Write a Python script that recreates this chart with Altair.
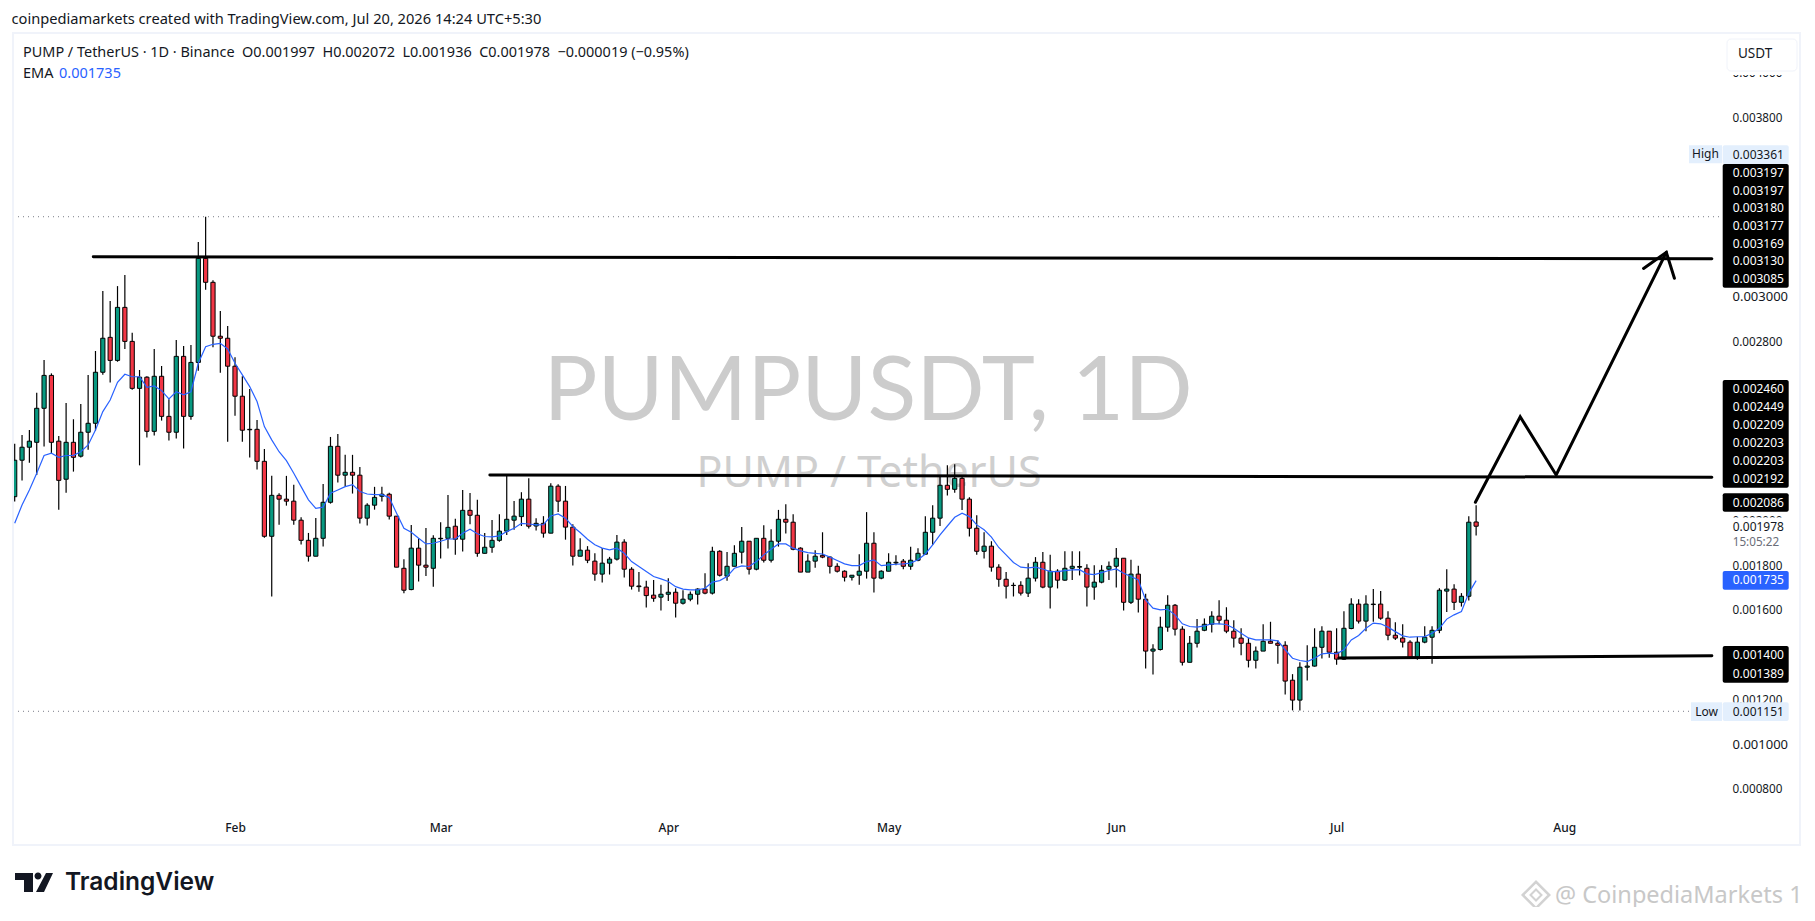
import altair as alt
import pandas as pd

# Prices in millionths of a USDT
HIGH = [2346,2386,2408,2574,2721,2661,2381,2529,2456,2524,2654,2761,3029,2984,3051,3101,2842,2676,2648,2770,
2694,2545,2810,2783,2788,3248,3361,3077,2940,2873,2733,2648,2591,2453,2323,2203,2125,2203,2163,2018,
1948,2015,2167,2377,2390,2297,2297,2243,2081,2154,2154,2128,2023,1830,1984,1924,1970,1938,1996,2118,
2011,2140,2127,2096,1948,2006,2031,2203,2091,2130,2192,2014,2023,2170,2166,2158,1987,1924,1889,1857,
1881,1841,1939,1920,1795,1774,1734,1738,1716,1746,1701,1692,1686,1701,1768,1886,1871,1863,1893,1975,
1911,1924,1982,1965,2051,2076,2032,1884,1853,1871,1951,1844,1813,1781,1759,1853,2041,1951,1781,1857,
1848,1831,1886,1880,2023,2072,2200,2250,2255,2200,2108,2027,1951,1911,1808,1773,1726,1732,1813,1840,
1863,1850,1786,1866,1866,1866,1808,1804,1804,1820,1881,1835,1828,1801,1676,1451,1573,1670,1630,1531,
1488,1563,1566,1598,1647,1616,1558,1522,1478,1440,1540,1551,1469,1464,1317,1370,1446,1522,1531,1509,
1522,1598,1656,1652,1670,1698,1688,1598,1549,1540,1469,1484,1531,1531,1701,1786,1719,1679,2023,2072]
BODY_TOP = [2273,2331,2358,2505,2652,2652,2358,2353,2353,2398,2438,2666,2818,2822,2956,2956,2804,2644,2644,2648,
2648,2469,2737,2737,2710,3175,3175,3068,2827,2818,2693,2559,2411,2411,2268,2116,2116,2099,2090,2005,
1915,1924,2085,2335,2335,2219,2219,2206,2072,2107,2121,2121,2023,1790,1880,1880,1804,1924,1924,1973,
1978,2049,2049,2027,1884,1915,1956,2009,2023,2099,2099,1991,1991,2157,2157,2090,1974,1871,1871,1822,
1813,1831,1907,1907,1786,1711,1706,1670,1674,1683,1683,1652,1674,1697,1697,1866,1866,1799,1857,1911,
1911,1924,1924,1911,2009,2009,1996,1880,1822,1844,1848,1840,1799,1777,1759,1777,1902,1902,1777,1817,
1817,1822,1826,1857,1951,2014,2161,2161,2192,2192,2099,1969,1889,1889,1795,1741,1714,1714,1746,1817,
1817,1777,1777,1790,1799,1798,1790,1728,1781,1799,1835,1835,1764,1764,1652,1429,1527,1625,1625,1518,
1455,1509,1540,1576,1576,1558,1509,1478,1455,1420,1464,1464,1455,1446,1290,1348,1353,1437,1509,1509,
1415,1522,1630,1630,1630,1630,1630,1567,1491,1478,1460,1460,1482,1513,1692,1697,1697,1665,1996,1997]
BODY_BOT = [2110,2273,2331,2353,2505,2353,2183,2188,2286,2291,2398,2438,2666,2719,2719,2804,2594,2594,2402,2402,
2469,2398,2398,2469,2469,2710,3068,2827,2818,2693,2559,2407,2409,2268,1933,1933,2099,2090,2005,1915,
1844,1844,1924,2085,2206,2206,2206,2014,2014,2072,2112,2023,1795,1692,1695,1804,1795,1790,1922,1924,
1920,1920,2027,1857,1857,1884,1915,1956,2005,2021,1978,1979,1947,1947,2090,1974,1844,1844,1826,1764,
1764,1813,1831,1786,1710,1708,1668,1656,1661,1674,1634,1634,1652,1674,1679,1679,1759,1755,1799,1862,
1786,1786,1826,1826,1911,1996,1875,1773,1773,1822,1840,1799,1777,1750,1750,1759,1777,1746,1746,1777,
1814,1799,1799,1826,1853,1951,2014,2143,2143,2099,1969,1866,1866,1795,1741,1710,1713,1679,1679,1746,
1706,1706,1737,1737,1790,1795,1706,1706,1728,1786,1799,1638,1638,1652,1420,1420,1427,1527,1518,1370,
1370,1455,1513,1540,1558,1509,1478,1455,1379,1379,1420,1455,1446,1286,1201,1201,1348,1353,1437,1415,
1384,1384,1521,1554,1554,1628,1567,1491,1478,1460,1388,1388,1460,1482,1513,1688,1638,1638,1665,1978]
LOW = [2088,2182,2262,2207,2334,2304,2052,2128,2222,2285,2320,2405,2655,2620,2713,2770,2588,2250,2374,2383,
2450,2361,2370,2325,2454,2673,3035,2778,2664,2356,2472,2356,2285,2231,1927,1664,1985,2070,1985,1896,
1820,1844,1887,2079,2173,2155,2124,1990,1981,2052,2088,2008,1795,1679,1692,1731,1756,1708,1834,1878,
1851,1865,1987,1842,1856,1860,1909,1939,1962,1979,1968,1959,1927,1947,2042,1918,1802,1844,1813,1734,
1726,1762,1825,1749,1695,1685,1615,1641,1601,1644,1570,1628,1643,1628,1674,1673,1753,1734,1799,1811,
1762,1781,1816,1816,1887,1945,1871,1773,1773,1793,1835,1767,1771,1731,1735,1717,1744,1682,1741,1777,
1804,1786,1783,1822,1851,1895,1979,2115,2128,2051,1932,1851,1834,1775,1708,1655,1664,1668,1662,1731,
1701,1610,1700,1734,1738,1758,1619,1649,1723,1738,1704,1601,1630,1592,1342,1315,1423,1507,1490,1356,
1370,1436,1509,1503,1540,1500,1436,1402,1347,1342,1420,1455,1363,1226,1155,1155,1289,1351,1387,1390,
1359,1381,1518,1543,1509,1551,1560,1469,1470,1436,1388,1381,1455,1363,1500,1595,1604,1619,1646,1936]
UP = [1,1,1,1,1,0,0,1,0,1,1,1,1,0,1,0,0,1,0,1,
0,0,1,0,1,1,0,0,0,0,0,0,1,0,0,1,0,0,0,0,
0,1,1,1,0,1,0,0,1,1,1,0,0,0,1,0,0,1,1,1,
0,1,0,0,1,1,1,1,1,1,0,1,0,1,0,0,0,1,0,0,
1,1,1,0,0,0,0,0,1,1,0,1,1,1,0,1,0,1,1,1,
0,1,0,1,1,0,0,0,1,1,0,0,0,0,1,1,1,0,1,1,
1,0,1,1,1,1,1,0,1,0,0,0,1,0,0,0,1,0,1,1,
0,1,0,1,1,1,0,1,1,1,1,0,1,0,0,1,1,1,0,0,
1,1,1,1,0,0,0,0,0,1,1,0,0,0,0,1,1,1,1,0,
0,1,1,0,1,1,0,0,0,0,0,1,1,1,1,1,0,1,1,0]
EMA = [1991,2073,2140,2215,2294,2304,2286,2294,2295,2311,2341,2408,2490,2542,2621,2657,2646,2646,2599,2605,
2584,2547,2579,2565,2579,2706,2780,2791,2795,2770,2706,2654,2602,2535,2423,2364,2311,2271,2215,2155,
2096,2058,2063,2125,2140,2155,2164,2133,2122,2119,2119,2106,2036,1969,1951,1924,1899,1902,1911,1921,
1921,1947,1965,1944,1932,1930,1935,1954,1969,1991,1988,1984,1985,2024,2033,2014,1977,1950,1920,1895,
1880,1872,1880,1857,1820,1798,1776,1753,1743,1731,1708,1697,1694,1694,1701,1728,1735,1753,1790,1801,
1798,1820,1850,1875,1899,1899,1880,1868,1860,1857,1854,1840,1825,1810,1802,1802,1820,1828,1802,1805,
1808,1810,1813,1828,1854,1895,1939,1979,2018,2036,2021,1984,1962,1929,1883,1850,1816,1795,1792,1795,
1787,1775,1775,1780,1783,1784,1765,1762,1771,1780,1787,1768,1753,1738,1649,1612,1604,1607,1582,1542,
1530,1527,1533,1542,1542,1539,1522,1500,1479,1470,1470,1470,1466,1426,1388,1378,1373,1388,1408,1411,
1408,1426,1470,1490,1522,1545,1542,1527,1507,1488,1482,1484,1485,1500,1522,1563,1582,1597,1679,1735]

# Bar number (0 = 2 Jan 2026, one bar per day) and price of each hand-drawn line
TREND_BARS = [[10.7,231.1],[64.7,231.1],[180.3,231.1]]
TREND_PRICES = [[3182,3173],[2207,2197],[1389,1399]]
PATH_BARS = [198.9,205.0,209.9,224.9]
PATH_PRICES = [2085,2467,2207,3202]
HEAD_BARS = [221.8,224.9,226.0]
HEAD_PRICES = [3130,3202,3086]
HIGH_LOW = [3361,1151]

MONTH_BARS = [30,58,89,119,150,180,211]
MONTH_NAMES = ["Feb","Mar","Apr","May","Jun","Jul","Aug"]
AXIS_TICKS = [800,1000,1200,1600,1800,2000,2800,3000,3800,4000]
STACK_TOP = ["0.003197","0.003197","0.003180","0.003177","0.003169","0.003130","0.003085"]
STACK_MID = ["0.002460","0.002449","0.002209","0.002203","0.002203","0.002192"]
STACK_NOW = ["0.002086"]
STACK_LOW = ["0.001400","0.001389"]

FONT = "Noto Sans"
GREEN, RED, BLUE = "#089981", "#f23645", "#2962ff"
INK = "#131722"

WIDTH, HEIGHT = 1709, 779
xscale = alt.Scale(domain=[-0.231, 232.48], nice=False, zero=False, padding=0)
yscale = alt.Scale(domain=[0.000701, 0.004182], nice=False, zero=False)
micro = lambda seq: [v / 1e6 for v in seq]

df = pd.DataFrame({
    "bar": range(len(HIGH)), "high": micro(HIGH), "low": micro(LOW),
    "top": micro(BODY_TOP), "bot": micro(BODY_BOT), "ema": micro(EMA),
    "dir": ["up" if u else "down" for u in UP],
})

month_expr = "{" + ",".join(f"'{b}':'{n}'" for b, n in zip(MONTH_BARS, MONTH_NAMES)) + "}[datum.value]"
XAXIS = alt.Axis(values=MONTH_BARS, labelExpr=month_expr, domain=False, ticks=False, grid=False, title=None,
                 labelFont=FONT, labelFontSize=12, labelColor=INK, labelPadding=10, labelFontWeight=500)
YAXIS = alt.Axis(orient="right", values=micro(AXIS_TICKS), labelExpr="format(datum.value,'.6f')", title=None,
                 domain=False, ticks=False, grid=False, labelFont=FONT, labelColor=INK, labelPadding=10, labelOffset=-1,
                 labelFontSize={"condition": {"test": "abs(datum.value-0.003)<1e-7||abs(datum.value-0.001)<1e-7",
                                              "value": 13}, "value": 11.7})
X = lambda f="bar": alt.X(f"{f}:Q", scale=xscale, axis=XAXIS)
Y = lambda f: alt.Y(f"{f}:Q", scale=yscale, axis=YAXIS)
blank = alt.Data(values=[{"a": 0}])

def px(x): return alt.value(x - 13)
def py(y): return alt.value(y - 33)

def label(text, x, y, size=11.7, color=INK, align="left", font=FONT, **kw):
    return alt.Chart(blank).mark_text(font=font, fontSize=size, align=align, baseline="middle",
                                      color=color, **kw).encode(x=px(x), y=py(y), text=alt.value(text))

def box(x0, x1, y0, y1, fill, **kw):
    return alt.Chart(blank).mark_rect(fill=fill, **kw).encode(x=px(x0), x2=px(x1), y=py(y0), y2=py(y1))

layers = [
    label("PUMPUSDT, 1D", 868, 393, size=90, color="#cccccc", align="center", font="Lato"),
    label("PUMP / TetherUS", 869, 474, size=43, color="#cfcfcf", align="center"),
]

# High / low dotted lines
hl = pd.DataFrame({"bar": [-0.231, 232.48, -0.231, 228.2], "p": micro([HIGH_LOW[0]] * 2 + [HIGH_LOW[1]] * 2),
                   "g": ["h", "h", "l", "l"]})
layers.append(alt.Chart(hl).mark_line(color="#787b86", strokeWidth=1, strokeDash=[1, 4]).encode(
    x=X(), y=Y("p"), detail="g:N"))

# Candles
layers.append(alt.Chart(df).mark_rule(color="#000000", strokeWidth=1.2).encode(x=X(), y=Y("high"), y2="low:Q"))
layers.append(alt.Chart(df).mark_bar(size=4.2, stroke="#000000", strokeWidth=1).encode(
    x=X(), y=Y("top"), y2="bot:Q",
    fill=alt.Fill("dir:N", scale=alt.Scale(domain=["up", "down"], range=[GREEN, RED]), legend=None)))
layers.append(alt.Chart(df).mark_line(color=BLUE, strokeWidth=1.2).encode(x=X(), y=Y("ema")))

# Hand-drawn black lines
rows = []
for i, (bs, ps) in enumerate(zip(TREND_BARS + [PATH_BARS, HEAD_BARS], TREND_PRICES + [PATH_PRICES, HEAD_PRICES])):
    for k, (b, p) in enumerate(zip(bs, ps)):
        rows.append({"bar": b, "p": p / 1e6, "g": i, "k": k})
layers.append(alt.Chart(pd.DataFrame(rows)).mark_line(color="#000000", strokeWidth=3, strokeCap="round").encode(
    x=X(), y=Y("p"), detail="g:N", order="k:O"))

# Frame and currency button
layers.append(box(1722.7, 1798, 34, 75, "#ffffff"))
layers.append(box(13, 1800, 33, 845, "transparent", stroke="#f0f3fa", strokeWidth=2))
layers.append(box(1727, 1797, 39, 71, "#ffffff", stroke="#f0f3fa", strokeWidth=1, cornerRadius=4))
layers.append(label("USDT", 1738, 54, size=13.5))

# Price badges
LX = 1732.7
layers.append(box(1722.7, 1789, 517.5, 550, "#ffffff"))
layers.append(label("0.001978", LX, 526.7, size=12))
layers.append(label("15:05:22", LX, 541.7, size=11.7, color="#6a6d78"))
layers.append(box(1722.7, 1788.7, 145.3, 164, "#e3effd", cornerRadius=2))
layers.append(label("0.003361", LX, 154.5, size=12))
layers.append(box(1689, 1722, 145.3, 163.3, "#e3effd"))
layers.append(label("High", 1705.5, 153.5, size=12, align="center"))
layers.append(box(1722.7, 1788.7, 702.3, 721, "#e3effd", cornerRadius=2))
layers.append(label("0.001151", LX, 711.5, size=12))
layers.append(box(1691, 1722, 702.3, 721, "#e3effd"))
layers.append(label("Low", 1706.5, 711.5, size=12, align="center"))
layers.append(box(1722.7, 1788.7, 571, 589.7, BLUE, cornerRadius=2))
layers.append(label("0.001735", LX, 580.3, size=12, color="#ffffff"))

for texts, y0, step in ((STACK_TOP, 164, 17.67), (STACK_MID, 380, 17.95), (STACK_NOW, 493.3, 18.4), (STACK_LOW, 646, 18.35)):
    layers.append(box(1722.7, 1788.7, y0, y0 + step * len(texts), "#000000", cornerRadius=2))
    for i, t in enumerate(texts):
        layers.append(label(t, LX, y0 + step * (i + 0.5), size=12, color="#ffffff"))

# Header text
NB = "\u00a0\u00a0"
layers.append(label("coinpediamarkets created with TradingView.com, Jul 20, 2026 14:24 UTC+5:30", 11.5, 20, size=14.65))
layers.append(label(f"PUMP / TetherUS \u00b7 1D \u00b7 Binance{NB}O0.001997{NB}H0.002072{NB}L0.001936{NB}C0.001978{NB}\u22120.000019 (\u22120.95%)", 23, 53, size=14.45))
layers.append(label("EMA", 23, 74, size=14.5))
layers.append(label("0.001735", 59, 74, size=14.5, color=BLUE))

# Footer
LOGO = ("M-19 -9.5H-1V9.5H-10V-2.5H-19Z"
        "M0.5 -6.5a3.5 3.5 0 1 0 7 0a3.5 3.5 0 1 0 -7 0Z"
        "M12 -9.5H19L10 9.5H2Z")
layers.append(alt.Chart(blank).mark_point(shape=LOGO, size=4, filled=True, color="#131722", opacity=1, strokeWidth=0).encode(
    x=px(34), y=py(882.5)))
layers.append(label("TradingView", 65, 883, size=24.5, color="#131722", font="Inter", fontWeight=600))
layers.append(alt.Chart(blank).mark_point(shape="diamond", size=700, filled=False, color="#d2d2d2", strokeWidth=2.5, opacity=1).encode(
    x=px(1536), y=py(895)))
layers.append(alt.Chart(blank).mark_point(shape="diamond", size=120, filled=False, color="#d2d2d2", strokeWidth=2, opacity=1).encode(
    x=px(1536), y=py(895)))
layers.append(label("@ CoinpediaMarkets 1", 1555, 896, size=23.5, color="#c8c8c8"))

chart = alt.layer(*layers).properties(
    width=WIDTH, height=HEIGHT,
    padding={"left": 5, "top": 25, "right": 85, "bottom": 95},
    autosize=alt.AutoSizeParams(type="none"),
    background="#ffffff",
).configure_view(stroke=None)

chart.save("out.html", embed_options={"renderer": "svg", "actions": False})
